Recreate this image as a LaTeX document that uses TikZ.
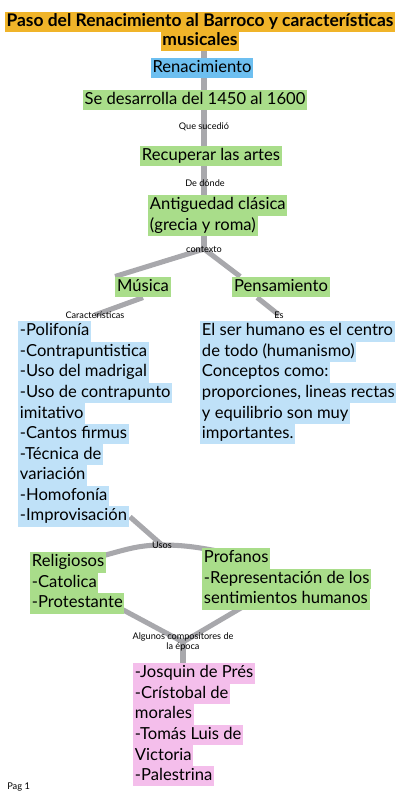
\documentclass[tikz,border=0pt]{standalone}
\usepackage{fontspec}
\setmainfont{Lato}
\usepackage{xcolor}
\usepackage{tikz}
\usetikzlibrary{positioning,calc,backgrounds}
\definecolor{naranja}{HTML}{F0B429}
\definecolor{celeste}{HTML}{6DBFF0}
\definecolor{azulclaro}{HTML}{BFE1F8}
\definecolor{verde}{HTML}{A9DD8A}
\definecolor{rosa}{HTML}{F4BEEB}
\definecolor{gris}{HTML}{A8A8AC}
\setlength{\fboxsep}{0pt}
\newcommand{\puntal}{\rule[-4.2pt]{0pt}{14.6pt}}
\newcommand{\puntalT}{\rule[-3.9pt]{0pt}{13.7pt}}
\newcommand{\marca}[2]{\colorbox{#1}{\kern1.2pt\puntal#2\kern1.2pt}}
\newcommand{\marcat}[1]{\colorbox{naranja}{\kern1.2pt\puntalT#1\kern1.2pt}}
\tikzset{
    caja/.style={
        inner sep=0pt,
        align=left,
        font=\fontsize{11.8}{14.6}\selectfont
    },
    titulo/.style={
        inner sep=0pt,
        align=center,
        font=\fontsize{12.4}{13.7}\selectfont\bfseries
    },
    etiqueta/.style={inner sep=0pt, align=center, font=\fontsize{6.5}{7.4}\selectfont},
    conector/.style={line width=3.6pt, draw=gris}
}

\begin{document}
\begin{tikzpicture}[x=0.025cm, y=-0.025cm]
    \useasboundingbox (0,0) rectangle (400,800);
    % cabecera y columna central
    \node[titulo, anchor=north] (titulo) at (200,12)
        {\marcat{Paso del Renacimiento al Barroco y características}\\
         \marcat{musicales}};
    \node[caja] (renac) at (202,68) {\marca{celeste}{Renacimiento}};
    \node[caja] (desarrolla) at (195,100) {\marca{verde}{Se desarrolla del 1450 al 1600}};
    \node[caja] (recuperar) at (211,156) {\marca{verde}{Recuperar las artes}};
    \node[caja, anchor=north west] (antiguedad) at (148,195)
        {\marca{verde}{Antiguedad clásica}\\
         \marca{verde}{(grecia y roma)}};
    \node[caja] (musica) at (143,287) {\marca{verde}{Música}};
    \node[caja] (pensamiento) at (281,287) {\marca{verde}{Pensamiento}};

    % ramas
    \node[caja, anchor=north west] (caract) at (18,321)
        {\marca{azulclaro}{-Polifonía}\\
         \marca{azulclaro}{-Contrapuntistica}\\
         \marca{azulclaro}{-Uso del madrigal}\\
         \marca{azulclaro}{-Uso de contrapunto}\\
         \marca{azulclaro}{imitativo}\\
         \marca{azulclaro}{-Cantos firmus}\\
         \marca{azulclaro}{-Técnica de}\\
         \marca{azulclaro}{variación}\\
         \marca{azulclaro}{-Homofonía}\\
         \marca{azulclaro}{-Improvisación}};
    \node[caja, anchor=north west] (humano) at (200,321)
        {\marca{azulclaro}{El ser humano es el centro}\\
         \marca{azulclaro}{de todo (humanismo)}\\
         \marca{azulclaro}{Conceptos como:}\\
         \marca{azulclaro}{proporciones, lineas rectas}\\
         \marca{azulclaro}{y equilibrio son muy}\\
         \marca{azulclaro}{importantes.}};
    \node[caja, anchor=north west] (religiosos) at (30,552)
        {\marca{verde}{Religiosos}\\
         \marca{verde}{-Catolica}\\
         \marca{verde}{-Protestante}};
    \node[caja, anchor=north west] (profanos) at (202,548)
        {\marca{verde}{Profanos}\\
         \marca{verde}{-Representación de los}\\
         \marca{verde}{sentimientos humanos}};
    \node[caja, anchor=north west] (compositores) at (133,663)
        {\marca{rosa}{-Josquin de Prés}\\
         \marca{rosa}{-Crístobal de}\\
         \marca{rosa}{morales}\\
         \marca{rosa}{-Tomás Luis de}\\
         \marca{rosa}{Victoria}\\
         \marca{rosa}{-Palestrina}};

    % etiquetas de las uniones
    \node[etiqueta] (quesucedio) at (204,127) {Que sucedió};
    \node[etiqueta] (dedonde) at (205,183) {De dónde};
    \node[etiqueta] (contexto) at (204,249) {contexto};
    \node[etiqueta] (lbcaract) at (95,315) {Características};
    \node[etiqueta] (es) at (279,315) {Es};
    \node[etiqueta] (usos) at (162,545) {Usos};
    \node[etiqueta] (algunos) at (183,642) {Algunos compositores de\\la época};
    \node[etiqueta, anchor=west, font=\fontsize{6.6}{7.4}\selectfont] (pagina) at (7,787) {Pag 1};
    \coordinate (improv) at ($(caract.south west)+(112,-10)$);

    \begin{scope}[on background layer]
        \draw[conector] (titulo.south -| contexto) -- (contexto.center);
        \draw[conector] (contexto.center) -- (musica.north west);
        \draw[conector] (contexto.center) -- ($(pensamiento.north west)+(8,0)$);
        \draw[conector] (musica.south) -- (lbcaract.center);
        \draw[conector] ($(pensamiento.south west)+(25,0)$) -- (es.center);
        \draw[conector] (improv) -- (usos.center);
        \draw[conector] (usos.center) to[out=180, in=15] ($(religiosos.north west)+(72,4)$);
        \draw[conector] (usos.center) to[out=0, in=170] ($(profanos.north west)+(32,6)$);
        \draw[conector] ($(religiosos.south east)+(-3,-5)$) -- (algunos.center);
        \draw[conector] ($(profanos.south west)+(42,-4)$) -- (algunos.center);
        \draw[conector] (algunos.center) -- (algunos.center |- compositores.north);
    \end{scope}
\end{tikzpicture}
\end{document}
